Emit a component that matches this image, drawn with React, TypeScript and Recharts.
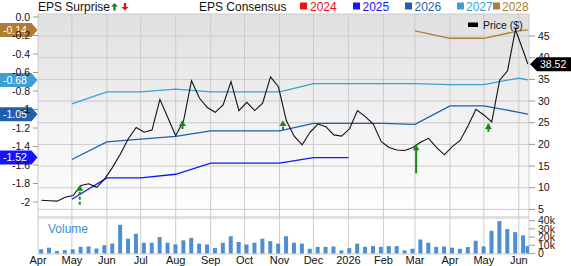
import React from "react";
import {
  ComposedChart,
  Line,
  Bar,
  XAxis,
  YAxis,
  CartesianGrid,
  ReferenceLine,
  ReferenceDot,
} from "recharts";

if (typeof document !== "undefined") {
  document.body.style.margin = "0";
}

const FONT = "'Liberation Sans', Arial, Helvetica, sans-serif";

// ---------- categories / ticks ----------
const START = Date.UTC(2025, 3, 1);
const dayOf = (s: string) => {
  const [y, m, d] = s.split("-").map(Number);
  return Math.round((Date.UTC(y, m - 1, d) - START) / 86400000);
};
const addDays = (s: string, n: number) => {
  const [y, m, d] = s.split("-").map(Number);
  const t = new Date(Date.UTC(y, m - 1, d) + n * 86400000);
  return t.toISOString().slice(0, 10);
};

const monthTickDates = [
  "2025-04-01", "2025-05-01", "2025-06-01", "2025-07-01", "2025-08-01",
  "2025-09-01", "2025-10-01", "2025-11-01", "2025-12-01", "2026-01-01",
  "2026-02-01", "2026-03-01", "2026-04-01", "2026-05-01", "2026-06-01",
];
const monthTickLabels = [
  "Apr", "May", "Jun", "Jul", "Aug", "Sep", "Oct", "Nov", "Dec", "2026",
  "Feb", "Mar", "Apr", "May", "Jun",
];
const lastDate = "2026-06-09";

// weekly categories (Fridays) plus the current partial week
const weekDates: string[] = [
  ...Array.from({ length: 62 }, (_, k) => addDays("2025-04-04", 7 * k)),
  lastDate,
];

const epsTicks = [0, -0.2, -0.4, -0.6, -0.8, -1, -1.2, -1.4, -1.6, -1.8, -2];
const epsTickLabels = ["0.0", "-0.2", "-0.4", "-0.6", "-0.8", "-1", "-1.2", "-1.4", "-1.6", "-1.8", "-2"];
const priceTicks = [5, 10, 15, 20, 25, 30, 35, 40, 45];
const volTicks = [0, 10, 20, 30, 40];
const volTickLabels = ["0", "10k", "20k", "30k", "40k"];

// ---------- series values ----------
const priceValues = [
  7.1, 7.0, 6.9, 7.8, 8.2, 10.5, 10.9, 10.1, 12.0, 14.7,
  17.8, 21.3, 23.9, 22.8, 23.3, 30.4, 26.2, 22.0, 25.5, 34.7,
  30.7, 28.5, 27.4, 29.1, 34.5, 27.8, 29.7, 27.8, 29.5, 35.6,
  33.3, 25.5, 21.9, 19.9, 22.8, 24.7, 24.1, 22.2, 21.9, 23.6,
  27.8, 26.4, 24.7, 20.7, 19.3, 18.7, 18.6, 19.3, 20.5, 21.4,
  19.3, 17.6, 19.5, 20.9, 24.3, 28.1, 26.8, 25.2, 34.8, 37.0,
  46.5, 41.5, 38.52,
];
// weekly volume, thousands
const volumeValues = [
  5, 7, 3, 4, 5, 8, 8.5, 6, 10, 12,
  35, 18, 24, 13, 13, 20, 13, 11, 16, 19,
  12, 11, 6.5, 13, 21, 14, 11, 13, 18, 15,
  12, 21, 13, 12, 5.7, 8, 8, 8.5, 3.7, 6.5,
  12, 8, 9, 8, 9, 9, 3.7, 5.7, 17, 13,
  8, 8.5, 7, 5.7, 7.7, 15.5, 8.5, 27.6, 39.5, 29.7,
  26, 22, 9,
];

const consensusDates = [
  "2025-05-01", "2025-06-01", "2025-07-01", "2025-08-01", "2025-09-01",
  "2025-10-01", "2025-11-01", "2025-12-01", "2026-01-01", "2026-02-01",
  "2026-03-01", "2026-04-01", "2026-05-01", "2026-06-01", lastDate,
];
const eps2025 = [-1.97, -1.74, -1.74, -1.7, -1.58, -1.58, -1.58, -1.52, -1.52];
const eps2026 = [-1.54, -1.35, -1.32, -1.29, -1.23, -1.23, -1.23, -1.15, -1.15, -1.15, -1.16, -0.96, -0.96, -1.03, -1.05];
const eps2027 = [-0.94, -0.81, -0.81, -0.78, -0.81, -0.81, -0.81, -0.72, -0.72, -0.72, -0.72, -0.73, -0.73, -0.66, -0.68];
const eps2028Dates = ["2026-03-01", "2026-04-01", "2026-05-01", "2026-06-01", lastDate];
const eps2028 = [-0.15, -0.23, -0.23, -0.15, -0.14];

const surpriseDates = ["2025-05-08", "2025-08-07", "2025-11-04", "2026-03-02", "2026-05-05"];
const surpriseConsensus = [-2.03, -1.21, -1.22, -1.69, -1.24];
const surpriseActual = [-1.82, -1.12, -1.12, -1.38, -1.15];
const surpriseDashed = [true, true, true, false, true];

const badgeValues = [-0.14, -0.68, -1.05, -1.52];
const badgeLabels = ["-0.14", "-0.68", "-1.05", "-1.52"];
const lastPrice = 38.52;

// ---------- colours ----------
const C2024 = "#ee1111";
const C2025 = "#1414ff";
const C2026 = "#1f5fae";
const C2027 = "#3d9fd2";
const C2028 = "#b07c30";
const badgeColors = [C2028, C2027, C2026, C2025];
const GREEN = "#138a13";
const GRID = "#cbcbcb";

// ---------- data tables ----------
const weekly = weekDates.map((d, i) => ({
  day: dayOf(d),
  price: priceValues[i],
  vol: volumeValues[i],
}));
const mk = (dates: string[], vals: number[]) =>
  vals.map((v, i) => ({ day: dayOf(dates[i]), v }));
const line2025 = mk(consensusDates, eps2025);
const line2026 = mk(consensusDates, eps2026);
const line2027 = mk(consensusDates, eps2027);
const line2028 = mk(eps2028Dates, eps2028);
const monthTicks = monthTickDates.map(dayOf);

const LeftBadge = (props: any) => {
  const vb = props.viewBox || {};
  const y = vb.y;
  const tip = vb.x - 0.5;
  return (
    <g>
      <path
        d={`M0,${y - 7} H${tip - 6} L${tip},${y} L${tip - 6},${y + 7} H0 Z`}
        fill={props.color}
      />
      <text x={3} y={y} dy="0.36em" fill="#fff" fontSize={10.5} fontFamily={FONT}>
        {props.text}
      </text>
    </g>
  );
};

const RightBadge = (props: any) => {
  const vb = props.viewBox || {};
  const y = vb.y;
  const x = vb.x + vb.width + 1;
  return (
    <g>
      <path d={`M${x},${y} L${x + 7},${y - 7} H571 V${y + 7} H${x + 7} Z`} fill="#000" />
      <text x={x + 10} y={y} dy="0.36em" fill="#fff" fontSize={10.5} fontFamily={FONT}>
        {props.text}
      </text>
    </g>
  );
};

const VolTick = (props: any) => {
  const vb = props.viewBox || {};
  const y = vb.y;
  const x = vb.x + vb.width;
  return (
    <g>
      <line x1={x} x2={x + 6} y1={y} y2={y} stroke="#999" />
      <text x={x + 9} y={y} dy="0.36em" fill="#222" fontSize={10.5} fontFamily={FONT}>
        {props.text}
      </text>
    </g>
  );
};

const ArrowHead = (props: any) => {
  const { cx, cy } = props;
  if (cx == null || cy == null) return null;
  return (
    <polygon
      points={`${cx},${cy} ${cx - 3.5},${cy + 5.5} ${cx + 3.5},${cy + 5.5}`}
      fill={GREEN}
    />
  );
};

export default function App() {
  return (
    <div style={{ position: "relative", width: 571, height: 266, fontFamily: FONT, background: "#fff" }}>
      <div
        style={{
          position: "absolute",
          left: 38,
          top: 14,
          width: 491,
          height: 203,
          background: "linear-gradient(#e0e0e0, #f4f4f4 60%, #ffffff)",
        }}
      />
      <div
        style={{ position: "absolute", left: 38, top: 216, width: 491, height: 3, background: "#e0e0e0" }}
      />
      <div style={{ position: "absolute", left: 0, top: 0 }}>
        <ComposedChart
          width={571}
          height={266}
          data={weekly}
          margin={{ top: 14, right: 0, bottom: 0, left: 0 }}
        >
          <CartesianGrid
            yAxisId="price"
            stroke={GRID}
            strokeWidth={1}
            fill="none"
          />
          <XAxis
            dataKey="day"
            type="number"
            domain={[0, 435]}
            allowDataOverflow
            ticks={monthTicks}
            interval={0}
            tickFormatter={(v: number) => monthTickLabels[monthTicks.indexOf(v)] ?? ""}
            tickLine={false}
            axisLine={false}
            tickSize={0}
            tickMargin={2}
            height={12}
            tick={{ fontSize: 11, fill: "#111", fontFamily: FONT }}
          />
          <XAxis
            xAxisId="w"
            dataKey="day"
            type="number"
            domain={[0, 435]}
            allowDataOverflow
            hide
          />
          <YAxis
            yAxisId="eps"
            orientation="left"
            width={38}
            type="number"
            domain={[-2.562, 0.0324]}
            allowDataOverflow
            ticks={epsTicks}
            interval={0}
            tickFormatter={(v: number) => epsTickLabels[epsTicks.indexOf(v)] ?? String(v)}
            axisLine={false}
            tickLine={{ stroke: "#999" }}
            tickSize={5}
            tickMargin={3}
            tick={{ fontSize: 10.5, fill: "#111", fontFamily: FONT }}
          />
          <YAxis
            yAxisId="price"
            orientation="right"
            width={42}
            type="number"
            domain={[-5.29, 50.09]}
            allowDataOverflow
            ticks={priceTicks}
            interval={0}
            axisLine={false}
            tickLine={{ stroke: "#999" }}
            tickSize={6}
            tickMargin={3}
            tick={{ fontSize: 10.5, fill: "#111", fontFamily: FONT }}
          />
          <YAxis yAxisId="vol" hide type="number" domain={[-0.73, 292.8]} allowDataOverflow />

          <Bar xAxisId="w" yAxisId="vol" dataKey="vol" fill="#4d8fd0" barSize={4} isAnimationActive={false} />

          <Line data={line2025} yAxisId="eps" dataKey="v" stroke={C2025} strokeWidth={1.3} dot={false} activeDot={false} isAnimationActive={false} />
          <Line data={line2026} yAxisId="eps" dataKey="v" stroke={C2026} strokeWidth={1.3} dot={false} activeDot={false} isAnimationActive={false} />
          <Line data={line2027} yAxisId="eps" dataKey="v" stroke={C2027} strokeWidth={1.3} dot={false} activeDot={false} isAnimationActive={false} />
          <Line data={line2028} yAxisId="eps" dataKey="v" stroke={C2028} strokeWidth={1.3} dot={false} activeDot={false} isAnimationActive={false} />

          <Line yAxisId="price" dataKey="price" stroke="#111" strokeWidth={1.1} dot={false} activeDot={false} isAnimationActive={false} />

          {surpriseDates.map((d, i) => (
            <ReferenceLine
              key={"s" + i}
              yAxisId="eps"
              segment={[
                { x: dayOf(d), y: surpriseConsensus[i] },
                { x: dayOf(d), y: surpriseActual[i] },
              ]}
              stroke={GREEN}
              strokeWidth={2}
              strokeDasharray={surpriseDashed[i] ? "3 2" : undefined}
            />
          ))}
          {surpriseDates.map((d, i) => (
            <ReferenceDot
              key={"h" + i}
              yAxisId="eps"
              x={dayOf(d)}
              y={surpriseActual[i]}
              shape={<ArrowHead />}
            />
          ))}

          {volTicks.map((v, i) => (
            <ReferenceLine
              key={"v" + i}
              yAxisId="vol"
              y={v}
              stroke="none"
              label={(p: any) => <VolTick viewBox={p.viewBox} text={volTickLabels[i]} />}
            />
          ))}
          {badgeValues.map((v, i) => (
            <ReferenceLine
              key={"b" + i}
              yAxisId="eps"
              y={v}
              stroke="none"
              label={(p: any) => <LeftBadge viewBox={p.viewBox} color={badgeColors[i]} text={badgeLabels[i]} />}
            />
          ))}
          <ReferenceLine
            yAxisId="price"
            y={lastPrice}
            stroke="none"
            label={(p: any) => <RightBadge viewBox={p.viewBox} text={lastPrice.toFixed(2)} />}
          />
        </ComposedChart>
      </div>
      <svg
        width={571}
        height={266}
        style={{ position: "absolute", left: 0, top: 0, pointerEvents: "none" }}
        fontFamily={FONT}
      >
        <text x={38} y={10.5} fontSize={12} fill="#111">EPS Surprise</text>
        <polygon points="114.5,3 111,6.5 113.3,6.5 113.3,10.5 115.7,10.5 115.7,6.5 118,6.5" fill={GREEN} />
        <polygon points="125,10.5 121.5,7 123.8,7 123.8,3 126.2,3 126.2,7 128.5,7" fill={C2024} />
        <text x={199} y={10.5} fontSize={12} fill="#111">EPS Consensus</text>
        <rect x={300} y={2.5} width={7} height={7} fill={C2024} />
        <text x={310} y={10.5} fontSize={12} fill={C2024}>2024</text>
        <rect x={353} y={2.5} width={7} height={7} fill={C2025} />
        <text x={362.5} y={10.5} fontSize={12} fill={C2025}>2025</text>
        <rect x={405} y={2.5} width={7} height={7} fill={C2026} />
        <text x={414.5} y={10.5} fontSize={12} fill={C2026}>2026</text>
        <rect x={457} y={2.5} width={7} height={7} fill={C2027} />
        <text x={466} y={10.5} fontSize={12} fill={C2027}>2027</text>
        <rect x={493} y={2.5} width={7} height={7} fill={C2028} />
        <text x={502} y={10.5} fontSize={12} fill={C2028}>2028</text>

        <rect x={468} y={22.5} width={10} height={4.5} fill="#000" />
        <text x={483} y={28.5} fontSize={10.5} fill="#111">Price ($)</text>

        <text x={48} y={233} fontSize={12} fill="#3d8fd0">Volume</text>
      </svg>
    </div>
  );
}
